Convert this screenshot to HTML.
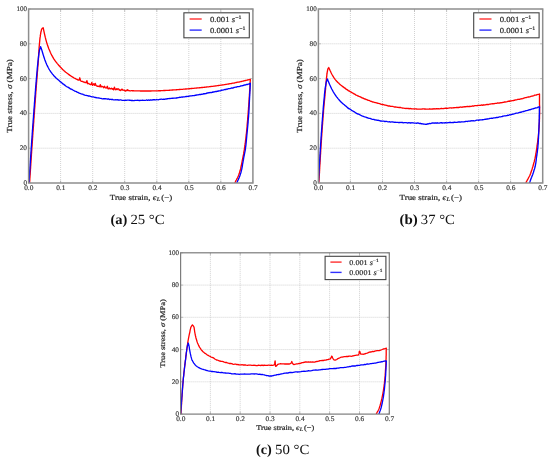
<!DOCTYPE html>
<html><head><meta charset="utf-8"><title>True stress-strain curves</title>
<style>html,body{margin:0;padding:0;background:#fff;}body{width:550px;height:459px;overflow:hidden;}svg{display:block;text-rendering:geometricPrecision;}</style>
</head><body>
<svg width="550" height="459" viewBox="0 0 550 459">
<rect width="550" height="459" fill="#fff"/>
<g font-family='"Liberation Serif", "DejaVu Serif", serif' fill="#2a2a2a" stroke-width="0.22"><clipPath id="clipa"><rect x="28.6" y="9.0" width="224.3" height="174.0"/></clipPath><path d="M60.6 9.0V183.0M92.7 9.0V183.0M124.7 9.0V183.0M156.8 9.0V183.0M188.8 9.0V183.0M220.8 9.0V183.0M28.6 148.2H252.9M28.6 113.4H252.9M28.6 78.6H252.9M28.6 43.8H252.9" stroke="#c6c6c6" stroke-width="0.8" stroke-dasharray="1 1" fill="none"/><path d="M28.6 183.0v-2.5M28.6 9.0v2.5M60.6 183.0v-2.5M60.6 9.0v2.5M92.7 183.0v-2.5M92.7 9.0v2.5M124.7 183.0v-2.5M124.7 9.0v2.5M156.8 183.0v-2.5M156.8 9.0v2.5M188.8 183.0v-2.5M188.8 9.0v2.5M220.8 183.0v-2.5M220.8 9.0v2.5M252.9 183.0v-2.5M252.9 9.0v2.5M28.6 183.0h2.5M252.9 183.0h-2.5M28.6 148.2h2.5M252.9 148.2h-2.5M28.6 113.4h2.5M252.9 113.4h-2.5M28.6 78.6h2.5M252.9 78.6h-2.5M28.6 43.8h2.5M252.9 43.8h-2.5M28.6 9.0h2.5M252.9 9.0h-2.5" stroke="#999" stroke-width="0.6" fill="none"/><g clip-path="url(#clipa)"><path d="M29.6 183.0L29.6 182.0L29.7 181.0L29.8 180.0L29.8 179.0L29.9 178.0L30.0 177.0L30.0 176.0L30.1 175.0L30.2 174.0L30.2 173.0L30.3 171.9L30.4 170.9L30.4 169.9L30.5 168.9L30.6 167.9L30.6 166.9L30.7 165.9L30.8 164.9L30.8 163.9L30.9 162.9L31.0 161.9L31.0 160.9L31.1 159.9L31.2 158.9L31.2 157.9L31.3 156.9L31.4 155.8L31.4 154.8L31.5 153.8L31.6 152.8L31.6 151.8L31.7 150.8L31.8 149.8L31.8 148.8L31.9 147.8L32.0 146.8L32.1 145.8L32.1 144.8L32.2 143.8L32.3 142.8L32.3 141.8L32.4 140.8L32.5 139.8L32.5 138.8L32.6 137.8L32.7 136.8L32.7 135.8L32.8 134.8L32.9 133.8L32.9 132.8L33.0 131.8L33.1 130.8L33.2 129.8L33.2 128.7L33.3 127.7L33.4 126.6L33.5 125.6L33.5 124.5L33.6 123.4L33.7 122.4L33.8 121.3L33.8 120.2L33.9 119.1L34.0 118.0L34.1 116.9L34.1 115.8L34.2 114.7L34.3 113.6L34.4 112.5L34.5 111.4L34.5 110.3L34.6 109.2L34.7 108.1L34.8 107.0L34.9 105.9L34.9 104.8L35.0 103.7L35.1 102.7L35.2 101.6L35.2 100.5L35.3 99.5L35.4 98.4L35.5 97.4L35.6 96.3L35.6 95.3L35.7 94.3L35.8 93.3L35.8 92.3L35.9 91.3L36.0 90.4L36.1 89.4L36.1 88.5L36.2 87.6L36.3 86.7L36.3 85.8L36.4 84.9L36.5 84.0L36.5 83.2L36.6 82.4L36.7 81.5L36.7 80.8L36.8 80.0L36.9 78.7L37.0 77.5L37.1 76.3L37.2 75.1L37.2 74.0L37.3 73.0L37.4 71.9L37.5 70.9L37.6 69.9L37.7 68.9L37.7 68.0L37.8 67.0L37.9 66.0L38.0 65.1L38.1 64.1L38.1 63.1L38.2 62.1L38.3 61.0L38.4 60.0L38.4 58.9L38.5 57.8L38.6 56.8L38.6 55.7L38.7 54.7L38.7 53.6L38.8 52.6L38.9 51.5L38.9 50.5L39.0 49.5L39.1 48.5L39.1 47.5L39.2 46.5L39.3 45.5L39.4 44.4L39.5 43.3L39.6 42.2L39.7 41.1L39.8 40.0L39.9 39.0L40.0 37.9L40.2 36.9L40.3 36.0L40.4 35.0L40.6 34.2L40.7 33.4L40.9 32.2L41.2 31.0L41.4 30.0L41.7 29.1L42.1 28.5L42.6 28.1L43.2 27.8L43.9 31.1L44.6 34.4L45.3 37.4L46.0 40.1L46.7 42.6L47.4 44.8L48.1 46.8L48.8 48.7L49.6 50.5L50.3 52.2L51.0 53.7L51.7 55.1L52.4 56.4L53.1 57.6L53.8 58.8L54.5 59.8L55.2 60.9L55.9 61.8L56.6 62.7L57.3 63.6L58.0 64.4L58.7 65.2L59.4 66.0L60.1 66.8L60.8 67.6L61.5 68.3L62.2 69.0L62.9 69.7L63.6 70.3L64.3 71.0L65.0 71.6L65.8 72.2L66.5 72.7L67.2 73.3L67.9 73.8L68.6 74.4L69.3 74.9L70.0 75.4L70.7 75.8L71.4 76.3L72.1 76.7L72.8 77.2L73.5 77.6L74.2 78.0L74.9 78.3L75.6 78.7L76.3 79.1L77.0 79.4L77.7 79.8L78.4 80.0L79.1 80.1L79.8 77.8L80.5 80.7L81.3 81.3L82.0 81.4L82.7 81.5L83.4 82.1L84.1 82.0L84.8 82.5L85.5 82.5L86.2 82.7L86.9 80.6L87.6 83.7L88.3 83.4L89.0 83.7L89.7 84.2L90.4 84.6L91.1 84.6L91.8 82.5L92.5 85.3L93.2 84.8L93.9 83.7L94.6 85.3L95.3 83.5L96.0 85.5L96.7 85.9L97.5 86.4L98.2 86.1L98.9 86.5L99.6 86.7L100.3 84.7L101.0 87.0L101.7 86.3L102.4 86.5L103.1 86.8L103.8 87.8L104.5 86.3L105.2 87.4L105.9 88.0L106.6 87.9L107.3 86.3L108.0 88.7L108.7 88.7L109.4 88.0L110.1 88.7L110.8 88.7L111.5 88.2L112.2 89.2L113.0 88.6L113.7 89.9L114.4 87.2L115.1 89.1L115.8 89.7L116.5 88.8L117.2 89.5L117.9 88.8L118.6 88.9L119.3 90.2L120.0 89.9L120.7 90.5L121.4 89.6L122.1 89.1L122.8 90.2L123.5 90.2L124.2 90.1L124.9 90.8L125.6 91.0L126.3 90.3L127.0 90.7L127.7 89.7L128.4 90.6L129.2 90.6L129.9 90.9L130.6 90.8L131.3 90.6L132.0 90.7L132.7 90.7L133.4 90.7L134.1 90.8L134.8 90.8L135.5 90.8L136.2 90.8L136.9 90.9L137.6 90.9L138.3 90.9L139.0 90.9L139.7 90.9L140.4 91.0L141.1 91.0L141.8 91.0L142.5 91.0L143.2 91.0L143.9 91.0L144.7 91.0L145.4 91.0L146.1 91.0L146.8 91.0L147.5 91.0L148.2 91.0L148.9 91.0L149.6 91.0L150.3 91.0L151.0 91.0L151.7 90.9L152.4 90.9L153.1 90.9L153.8 90.9L154.5 90.9L155.2 90.9L155.9 90.8L156.6 90.8L157.3 90.8L158.0 90.8L158.7 90.7L159.4 90.7L160.1 90.7L160.9 90.7L161.6 90.6L162.3 90.6L163.0 90.6L163.7 90.5L164.4 90.5L165.1 90.5L165.8 90.4L166.5 90.4L167.2 90.3L167.9 90.3L168.6 90.3L169.3 90.2L170.0 90.2L170.7 90.1L171.4 90.1L172.1 90.0L172.8 90.0L173.5 89.9L174.2 89.9L174.9 89.8L175.6 89.8L176.4 89.7L177.1 89.7L177.8 89.6L178.5 89.6L179.2 89.5L179.9 89.5L180.6 89.4L181.3 89.4L182.0 89.3L182.7 89.3L183.4 89.2L184.1 89.1L184.8 89.1L185.5 89.0L186.2 89.0L186.9 88.9L187.6 88.8L188.3 88.8L189.0 88.7L189.7 88.7L190.4 88.6L191.1 88.5L191.8 88.5L192.6 88.4L193.3 88.3L194.0 88.3L194.7 88.2L195.4 88.1L196.1 88.1L196.8 88.0L197.5 87.9L198.2 87.9L198.9 87.8L199.6 87.7L200.3 87.7L201.0 87.6L201.7 87.5L202.4 87.5L203.1 87.4L203.8 87.3L204.5 87.2L205.2 87.2L205.9 87.1L206.6 87.0L207.3 86.9L208.1 86.8L208.8 86.8L209.5 86.7L210.2 86.6L210.9 86.5L211.6 86.4L212.3 86.3L213.0 86.3L213.7 86.2L214.4 86.1L215.1 86.0L215.8 85.9L216.5 85.8L217.2 85.7L217.9 85.6L218.6 85.5L219.3 85.4L220.0 85.3L220.7 85.2L221.4 85.1L222.1 85.0L222.8 84.9L223.5 84.8L224.3 84.7L225.0 84.6L225.7 84.4L226.4 84.3L227.1 84.2L227.8 84.1L228.5 84.0L229.2 83.9L229.9 83.7L230.6 83.6L231.3 83.5L232.0 83.3L232.7 83.2L233.4 83.1L234.1 83.0L234.8 82.8L235.5 82.7L236.2 82.5L236.9 82.4L237.6 82.2L238.3 82.1L239.0 82.0L239.8 81.8L240.5 81.7L241.2 81.5L241.9 81.3L242.6 81.2L243.3 81.0L244.0 80.9L244.7 80.7L245.4 80.5L246.1 80.3L246.8 80.2L247.5 80.0L248.2 79.8L248.9 79.6L249.6 79.5L250.3 79.3L250.3 79.5L250.3 80.5L250.2 81.5L250.1 82.6L250.1 83.6L250.0 84.6L250.0 85.6L249.9 86.7L249.9 87.7L249.8 88.7L249.7 89.7L249.7 90.8L249.6 91.8L249.6 92.9L249.5 93.9L249.4 94.9L249.4 96.0L249.3 97.0L249.2 98.0L249.2 99.0L249.1 100.0L249.0 101.0L249.0 102.0L248.9 103.0L248.8 104.0L248.8 105.0L248.7 106.0L248.6 107.0L248.5 108.0L248.5 109.0L248.4 110.0L248.3 111.1L248.2 112.1L248.2 113.1L248.1 114.1L248.0 115.1L247.9 116.1L247.8 117.2L247.7 118.2L247.7 119.3L247.6 120.3L247.5 121.3L247.4 122.4L247.3 123.4L247.2 124.4L247.1 125.5L247.1 126.5L247.0 127.5L246.9 128.5L246.8 129.6L246.7 130.6L246.6 131.6L246.5 132.5L246.4 133.6L246.2 134.7L246.1 135.8L246.0 136.9L245.9 137.9L245.8 139.0L245.6 140.1L245.5 141.1L245.4 142.1L245.3 143.2L245.1 144.2L245.0 145.2L244.8 146.2L244.7 147.2L244.5 148.2L244.4 149.3L244.2 150.3L244.0 151.4L243.8 152.4L243.7 153.4L243.5 154.5L243.3 155.5L243.1 156.5L242.9 157.4L242.7 158.4L242.5 159.4L242.3 160.4L242.1 161.5L241.9 162.6L241.7 163.6L241.5 164.7L241.3 165.8L241.0 166.8L240.8 167.9L240.6 168.9L240.3 169.9L240.1 170.8L239.7 171.9L239.4 173.0L239.0 174.0L238.7 175.0L238.3 176.0L237.9 176.9L237.5 177.8L236.9 178.9L236.3 180.0L235.7 181.0L235.3 182.0L234.7 183.4L234.3 184.7" stroke="#ff0000" stroke-width="1.35" fill="none" stroke-linejoin="round"/><path d="M28.9 183.0L29.0 182.0L29.1 181.0L29.1 180.0L29.2 179.0L29.3 178.0L29.3 177.0L29.4 176.0L29.5 175.0L29.5 174.0L29.6 173.0L29.7 171.9L29.7 170.9L29.8 169.9L29.9 168.9L29.9 167.9L30.0 166.9L30.1 165.9L30.1 164.9L30.2 163.9L30.3 162.9L30.3 161.9L30.4 160.9L30.5 159.9L30.5 158.9L30.6 157.9L30.7 156.9L30.7 155.8L30.8 154.8L30.9 153.8L30.9 152.8L31.0 151.8L31.1 150.8L31.1 149.8L31.2 148.8L31.3 147.8L31.3 146.8L31.4 145.8L31.5 144.8L31.5 143.8L31.6 142.8L31.7 141.8L31.7 140.8L31.8 139.8L31.9 138.8L32.0 137.8L32.0 136.8L32.1 135.8L32.2 134.8L32.2 133.8L32.3 132.8L32.4 131.8L32.4 130.8L32.5 129.8L32.6 128.7L32.7 127.7L32.7 126.6L32.8 125.6L32.9 124.5L33.0 123.4L33.1 122.3L33.1 121.3L33.2 120.2L33.3 119.1L33.4 118.0L33.5 116.9L33.5 115.8L33.6 114.7L33.7 113.6L33.8 112.5L33.9 111.4L33.9 110.3L34.0 109.1L34.1 108.0L34.2 107.0L34.3 105.9L34.4 104.8L34.4 103.7L34.5 102.6L34.6 101.5L34.7 100.5L34.8 99.4L34.8 98.4L34.9 97.3L35.0 96.3L35.1 95.3L35.2 94.3L35.2 93.3L35.3 92.3L35.4 91.3L35.5 90.3L35.5 89.4L35.6 88.4L35.7 87.5L35.7 86.6L35.8 85.7L35.9 84.8L36.0 84.0L36.0 83.2L36.1 82.3L36.2 81.5L36.2 80.8L36.3 80.0L36.4 78.7L36.5 77.5L36.6 76.3L36.7 75.2L36.8 74.1L36.9 73.0L37.0 72.0L37.1 71.0L37.2 70.0L37.2 69.0L37.3 68.1L37.4 67.2L37.5 66.2L37.6 65.3L37.7 64.4L37.8 63.5L37.9 62.6L38.0 61.4L38.1 60.3L38.3 59.1L38.4 58.0L38.5 56.9L38.6 55.8L38.8 54.8L38.9 53.8L39.0 52.8L39.2 51.9L39.3 51.1L39.6 49.8L39.9 48.7L40.2 47.7L40.5 46.6L41.2 48.3L41.9 50.4L42.6 52.7L43.3 55.1L44.0 57.3L44.7 59.4L45.4 61.3L46.1 63.1L46.8 64.7L47.5 66.1L48.2 67.5L48.9 68.8L49.6 70.0L50.3 71.1L51.0 72.2L51.8 73.2L52.5 74.1L53.2 74.9L53.9 75.7L54.6 76.4L55.3 77.2L56.0 78.0L56.7 78.4L57.4 79.2L58.1 79.7L58.8 80.3L59.5 80.9L60.2 81.7L60.9 82.1L61.6 82.7L62.3 83.3L63.0 84.0L63.7 84.2L64.4 84.9L65.1 85.4L65.8 86.0L66.5 86.5L67.2 86.9L67.9 87.2L68.7 87.6L69.4 88.1L70.1 88.7L70.8 89.1L71.5 89.2L72.2 89.6L72.9 90.0L73.6 90.3L74.3 90.8L75.0 91.2L75.7 91.4L76.4 91.6L77.1 92.1L77.8 92.4L78.5 92.7L79.2 93.2L79.9 93.4L80.6 93.6L81.3 93.9L82.0 94.1L82.7 94.1L83.4 94.7L84.1 94.9L84.8 95.2L85.6 95.3L86.3 95.4L87.0 95.6L87.7 95.7L88.4 96.1L89.1 96.0L89.8 96.2L90.5 96.4L91.2 96.6L91.9 96.8L92.6 96.8L93.3 96.9L94.0 97.1L94.7 97.3L95.4 97.5L96.1 97.5L96.8 97.9L97.5 97.9L98.2 97.9L98.9 98.0L99.6 98.2L100.3 98.3L101.0 98.3L101.7 98.6L102.5 98.8L103.2 98.7L103.9 98.7L104.6 98.7L105.3 98.7L106.0 98.9L106.7 98.9L107.4 99.2L108.1 99.0L108.8 99.0L109.5 99.5L110.2 99.4L110.9 99.3L111.6 99.5L112.3 99.3L113.0 99.6L113.7 99.8L114.4 99.8L115.1 99.8L115.8 99.7L116.5 99.8L117.2 99.7L117.9 100.0L118.6 100.0L119.3 100.1L120.1 99.9L120.8 99.9L121.5 100.2L122.2 100.3L122.9 100.3L123.6 100.3L124.3 100.3L125.0 100.3L125.7 100.1L126.4 100.3L127.1 100.2L127.8 100.1L128.5 100.1L129.2 100.2L129.9 100.2L130.6 100.4L131.3 100.5L132.0 100.3L132.7 100.5L133.4 100.6L134.1 100.6L134.8 100.3L135.5 100.3L136.2 100.3L137.0 100.3L137.7 100.2L138.4 100.4L139.1 100.5L139.8 100.5L140.5 100.3L141.2 100.4L141.9 100.4L142.6 100.1L143.3 100.3L144.0 100.4L144.7 100.3L145.4 100.3L146.1 100.2L146.8 100.0L147.5 100.3L148.2 100.0L148.9 100.2L149.6 100.2L150.3 100.0L151.0 99.9L151.7 100.1L152.4 100.0L153.1 99.7L153.9 99.7L154.6 99.7L155.3 99.9L156.0 99.8L156.7 99.5L157.4 99.7L158.1 99.8L158.8 99.6L159.5 99.4L160.2 99.4L160.9 99.2L161.6 99.1L162.3 99.4L163.0 99.3L163.7 99.1L164.4 99.3L165.1 99.0L165.8 99.1L166.5 99.0L167.2 98.7L167.9 98.7L168.6 98.6L169.3 98.5L170.0 98.6L170.8 98.4L171.5 98.4L172.2 98.2L172.9 98.4L173.6 98.1L174.3 98.1L175.0 98.1L175.7 98.1L176.4 97.8L177.1 98.0L177.8 97.7L178.5 97.6L179.2 97.5L179.9 97.2L180.6 97.3L181.3 97.1L182.0 97.0L182.7 97.2L183.4 96.9L184.1 96.9L184.8 96.9L185.5 96.7L186.2 96.5L186.9 96.5L187.6 96.4L188.4 96.4L189.1 96.0L189.8 96.1L190.5 95.9L191.2 95.8L191.9 95.9L192.6 95.7L193.3 95.6L194.0 95.6L194.7 95.5L195.4 95.2L196.1 95.2L196.8 95.0L197.5 94.9L198.2 94.8L198.9 94.6L199.6 94.5L200.3 94.4L201.0 94.5L201.7 94.2L202.4 94.2L203.1 94.1L203.8 93.7L204.5 93.7L205.3 93.7L206.0 93.6L206.7 93.1L207.4 93.0L208.1 93.0L208.8 92.7L209.5 92.7L210.2 92.5L210.9 92.6L211.6 92.5L212.3 92.4L213.0 91.9L213.7 92.0L214.4 91.9L215.1 91.5L215.8 91.7L216.5 91.6L217.2 91.1L217.9 91.3L218.6 90.9L219.3 90.8L220.0 90.9L220.7 90.6L221.4 90.2L222.2 90.2L222.9 90.1L223.6 89.9L224.3 89.6L225.0 89.5L225.7 89.6L226.4 89.1L227.1 89.2L227.8 89.0L228.5 88.7L229.2 88.6L229.9 88.6L230.6 88.4L231.3 88.0L232.0 88.2L232.7 88.0L233.4 87.9L234.1 87.4L234.8 87.3L235.5 87.1L236.2 87.2L236.9 86.8L237.6 86.6L238.3 86.6L239.1 86.6L239.8 86.4L240.5 86.0L241.2 85.8L241.9 85.9L242.6 85.6L243.3 85.5L244.0 85.1L244.7 84.9L245.4 85.0L246.1 84.7L246.8 84.4L247.5 84.5L248.2 84.2L248.9 84.1L249.6 83.7L250.3 83.7L250.3 83.1L250.3 84.2L250.2 85.2L250.2 86.3L250.1 87.3L250.1 88.4L250.0 89.4L250.0 90.5L249.9 91.5L249.8 92.6L249.8 93.7L249.7 94.9L249.7 96.0L249.6 96.9L249.6 97.9L249.5 98.8L249.5 99.8L249.4 100.8L249.4 101.8L249.3 102.8L249.3 103.8L249.2 104.8L249.2 105.9L249.1 106.9L249.1 107.9L249.0 109.0L249.0 110.0L248.9 111.0L248.9 112.1L248.8 113.1L248.7 114.1L248.6 115.1L248.6 116.1L248.5 117.2L248.4 118.2L248.3 119.3L248.2 120.3L248.1 121.3L248.1 122.4L248.0 123.4L247.9 124.4L247.8 125.5L247.7 126.5L247.6 127.5L247.5 128.5L247.4 129.6L247.3 130.6L247.2 131.6L247.1 132.5L247.0 133.6L246.9 134.7L246.8 135.8L246.7 136.9L246.6 137.9L246.5 139.0L246.4 140.1L246.3 141.1L246.2 142.1L246.1 143.2L246.0 144.2L245.9 145.2L245.8 146.2L245.6 147.2L245.5 148.2L245.4 149.3L245.2 150.3L245.0 151.4L244.8 152.4L244.6 153.4L244.4 154.4L244.2 155.5L244.0 156.4L243.8 157.4L243.6 158.4L243.5 159.4L243.3 160.4L243.1 161.5L242.9 162.6L242.7 163.6L242.5 164.7L242.4 165.8L242.2 166.8L242.0 167.9L241.8 168.9L241.6 169.9L241.3 170.8L241.1 171.9L240.8 173.0L240.4 174.0L240.1 175.0L239.8 176.0L239.4 176.9L239.1 177.8L238.6 178.9L238.1 180.0L237.6 181.0L237.2 182.0L236.7 183.4L236.2 184.7" stroke="#0000ff" stroke-width="1.35" fill="none" stroke-linejoin="round"/></g><rect x="28.6" y="9.0" width="224.3" height="174.0" fill="none" stroke="#8e8e8e" stroke-width="1.5"/><g font-size="7.00" fill="#3a3a3a" stroke="#3a3a3a" stroke-width="0.18"><text x="28.8" y="190.1" text-anchor="middle" textLength="9.2" lengthAdjust="spacingAndGlyphs">0.0</text><text x="60.8" y="190.1" text-anchor="middle" textLength="9.2" lengthAdjust="spacingAndGlyphs">0.1</text><text x="92.9" y="190.1" text-anchor="middle" textLength="9.2" lengthAdjust="spacingAndGlyphs">0.2</text><text x="124.9" y="190.1" text-anchor="middle" textLength="9.2" lengthAdjust="spacingAndGlyphs">0.3</text><text x="157.0" y="190.1" text-anchor="middle" textLength="9.2" lengthAdjust="spacingAndGlyphs">0.4</text><text x="189.0" y="190.1" text-anchor="middle" textLength="9.2" lengthAdjust="spacingAndGlyphs">0.5</text><text x="221.0" y="190.1" text-anchor="middle" textLength="9.2" lengthAdjust="spacingAndGlyphs">0.6</text><text x="253.1" y="190.1" text-anchor="middle" textLength="9.2" lengthAdjust="spacingAndGlyphs">0.7</text><text x="27.0" y="185.0" text-anchor="end" textLength="3.6" lengthAdjust="spacingAndGlyphs">0</text><text x="27.0" y="150.2" text-anchor="end" textLength="7.3" lengthAdjust="spacingAndGlyphs">20</text><text x="27.0" y="115.4" text-anchor="end" textLength="7.3" lengthAdjust="spacingAndGlyphs">40</text><text x="27.0" y="80.6" text-anchor="end" textLength="7.3" lengthAdjust="spacingAndGlyphs">60</text><text x="27.0" y="45.8" text-anchor="end" textLength="7.3" lengthAdjust="spacingAndGlyphs">80</text><text x="27.0" y="11.0" text-anchor="end" textLength="10.6" lengthAdjust="spacingAndGlyphs">100</text></g><text stroke="#2a2a2a" x="141.0" y="199.7" font-size="7.70" text-anchor="middle" textLength="62.5" lengthAdjust="spacingAndGlyphs">True strain, <tspan font-style="italic">&#x3F5;</tspan><tspan font-style="italic" font-size="5.54" dx="0.4" dy="1.70">L</tspan><tspan dx="0.8" dy="-1.70">(&#x2212;)</tspan></text><text stroke="#2a2a2a" transform="translate(12.0 96.0) rotate(-90)" font-size="7.70" text-anchor="middle" textLength="73.5" lengthAdjust="spacingAndGlyphs">True stress, <tspan font-style="italic">&#x3C3;</tspan> (MPa)</text><rect x="183.9" y="12.8" width="65.4" height="25.0" fill="#fff" stroke="#444" stroke-width="1.1"/><path d="M189.6 19.0H201.7" stroke="#ff3030" stroke-width="1.4"/><path d="M189.6 30.1H201.7" stroke="#3030ff" stroke-width="1.4"/><text stroke="#2a2a2a" stroke-width="0.18" x="209.9" y="21.8" font-size="7.80" textLength="31.6" lengthAdjust="spacingAndGlyphs">0.001 <tspan font-style="italic">s</tspan><tspan font-size="5.30" dy="-3.00">&#x2212;1</tspan></text><text stroke="#2a2a2a" stroke-width="0.18" x="209.9" y="32.9" font-size="7.80" textLength="35.6" lengthAdjust="spacingAndGlyphs">0.0001 <tspan font-style="italic">s</tspan><tspan font-size="5.30" dy="-3.00">&#x2212;1</tspan></text></g><g font-family='"Liberation Serif", "DejaVu Serif", serif' fill="#2a2a2a" stroke-width="0.22"><clipPath id="clipb"><rect x="318.4" y="9.0" width="224.3" height="174.0"/></clipPath><path d="M350.4 9.0V183.0M382.5 9.0V183.0M414.5 9.0V183.0M446.6 9.0V183.0M478.6 9.0V183.0M510.6 9.0V183.0M318.4 148.2H542.7M318.4 113.4H542.7M318.4 78.6H542.7M318.4 43.8H542.7" stroke="#c6c6c6" stroke-width="0.8" stroke-dasharray="1 1" fill="none"/><path d="M318.4 183.0v-2.5M318.4 9.0v2.5M350.4 183.0v-2.5M350.4 9.0v2.5M382.5 183.0v-2.5M382.5 9.0v2.5M414.5 183.0v-2.5M414.5 9.0v2.5M446.6 183.0v-2.5M446.6 9.0v2.5M478.6 183.0v-2.5M478.6 9.0v2.5M510.6 183.0v-2.5M510.6 9.0v2.5M542.7 183.0v-2.5M542.7 9.0v2.5M318.4 183.0h2.5M542.7 183.0h-2.5M318.4 148.2h2.5M542.7 148.2h-2.5M318.4 113.4h2.5M542.7 113.4h-2.5M318.4 78.6h2.5M542.7 78.6h-2.5M318.4 43.8h2.5M542.7 43.8h-2.5M318.4 9.0h2.5M542.7 9.0h-2.5" stroke="#999" stroke-width="0.6" fill="none"/><g clip-path="url(#clipb)"><path d="M318.9 182.5L318.9 181.5L319.0 180.5L319.1 179.5L319.1 178.5L319.2 177.5L319.2 176.5L319.3 175.5L319.3 174.5L319.4 173.5L319.5 172.5L319.5 171.5L319.6 170.5L319.6 169.5L319.7 168.5L319.7 167.5L319.8 166.5L319.8 165.5L319.9 164.5L320.0 163.5L320.0 162.5L320.1 161.5L320.1 160.5L320.2 159.5L320.2 158.4L320.3 157.4L320.4 156.4L320.4 155.4L320.5 154.4L320.6 153.4L320.6 152.4L320.7 151.4L320.7 150.4L320.8 149.4L320.9 148.4L320.9 147.4L321.0 146.4L321.1 145.3L321.1 144.3L321.2 143.3L321.3 142.3L321.3 141.2L321.4 140.2L321.5 139.1L321.5 138.1L321.6 137.1L321.7 136.0L321.8 135.0L321.8 133.9L321.9 132.9L322.0 131.8L322.0 130.8L322.1 129.8L322.2 128.7L322.3 127.7L322.3 126.7L322.4 125.6L322.5 124.6L322.6 123.6L322.6 122.6L322.7 121.6L322.8 120.6L322.9 119.6L322.9 118.7L323.0 117.7L323.1 116.8L323.1 115.8L323.2 114.9L323.3 114.0L323.4 113.1L323.5 111.9L323.5 110.8L323.6 109.8L323.7 108.7L323.8 107.6L323.9 106.5L324.0 105.4L324.1 104.4L324.2 103.3L324.3 102.3L324.4 101.2L324.5 100.2L324.6 99.2L324.7 98.2L324.8 97.3L324.9 96.3L325.0 95.4L325.0 94.4L325.1 93.5L325.2 92.6L325.3 91.8L325.4 90.9L325.4 90.1L325.6 88.9L325.6 87.8L325.7 86.8L325.8 85.7L325.9 84.7L326.0 83.8L326.1 82.8L326.1 81.9L326.2 80.9L326.3 80.0L326.4 79.1L326.5 77.9L326.7 76.7L326.8 75.5L326.9 74.3L327.1 73.2L327.2 72.2L327.4 71.3L327.6 70.1L327.9 69.0L328.2 68.2L328.5 67.8L328.7 67.5L329.5 69.2L330.2 70.8L330.9 72.3L331.6 73.7L332.3 75.0L333.0 76.2L333.7 77.3L334.4 78.3L335.1 79.3L335.8 80.2L336.5 81.0L337.2 81.7L337.9 82.5L338.6 83.1L339.3 83.8L340.0 84.4L340.7 85.0L341.4 85.5L342.1 86.1L342.8 86.6L343.5 87.1L344.2 87.8L344.9 88.0L345.6 88.8L346.3 89.2L347.0 89.6L347.7 90.1L348.4 90.8L349.1 90.9L349.8 91.3L350.5 91.9L351.2 92.2L351.9 92.6L352.6 93.0L353.3 93.4L354.0 93.8L354.7 94.2L355.4 94.6L356.1 95.2L356.8 95.3L357.5 95.8L358.3 96.0L359.0 96.4L359.7 96.6L360.4 97.0L361.1 97.2L361.8 97.8L362.5 98.0L363.2 98.2L363.9 98.6L364.6 99.0L365.3 99.0L366.0 99.5L366.7 99.7L367.4 99.9L368.1 100.3L368.8 100.4L369.5 100.7L370.2 101.0L370.9 101.4L371.6 101.4L372.3 101.8L373.0 102.0L373.7 102.2L374.4 102.3L375.1 102.5L375.8 102.6L376.5 102.8L377.2 103.0L377.9 103.4L378.6 103.4L379.3 103.6L380.0 103.7L380.7 104.2L381.4 104.4L382.1 104.5L382.8 104.5L383.5 104.7L384.2 104.9L384.9 105.1L385.6 105.1L386.3 105.4L387.1 105.5L387.8 105.9L388.5 106.0L389.2 106.0L389.9 106.0L390.6 106.4L391.3 106.3L392.0 106.4L392.7 106.4L393.4 106.7L394.1 106.8L394.8 107.0L395.5 107.0L396.2 107.2L396.9 107.1L397.6 107.3L398.3 107.3L399.0 107.5L399.7 107.5L400.4 107.5L401.1 107.7L401.8 107.8L402.5 108.0L403.2 108.1L403.9 108.2L404.6 108.3L405.3 108.3L406.0 108.5L406.7 108.3L407.4 108.4L408.1 108.7L408.8 108.4L409.5 108.7L410.2 108.7L410.9 108.5L411.6 108.9L412.3 108.9L413.0 108.9L413.7 108.9L414.4 109.0L415.1 108.8L415.8 108.9L416.6 109.0L417.3 109.1L418.0 109.1L418.7 109.1L419.4 109.1L420.1 109.2L420.8 109.1L421.5 109.1L422.2 109.0L422.9 108.9L423.6 108.9L424.3 109.0L425.0 108.9L425.7 109.2L426.4 109.1L427.1 109.1L427.8 109.1L428.5 109.1L429.2 109.0L429.9 108.8L430.6 109.1L431.3 109.1L432.0 109.0L432.7 109.0L433.4 109.0L434.1 108.7L434.8 109.0L435.5 108.8L436.2 108.7L436.9 108.7L437.6 108.9L438.3 108.6L439.0 108.8L439.7 108.9L440.4 108.6L441.1 108.5L441.8 108.5L442.5 108.6L443.2 108.6L443.9 108.5L444.6 108.4L445.4 108.2L446.1 108.2L446.8 108.2L447.5 108.3L448.2 108.1L448.9 108.1L449.6 107.9L450.3 107.8L451.0 107.9L451.7 108.0L452.4 107.9L453.1 107.9L453.8 107.7L454.5 107.7L455.2 107.6L455.9 107.6L456.6 107.4L457.3 107.6L458.0 107.3L458.7 107.5L459.4 107.4L460.1 107.0L460.8 107.1L461.5 107.2L462.2 107.2L462.9 107.0L463.6 106.8L464.3 106.7L465.0 107.0L465.7 106.6L466.4 106.7L467.1 106.5L467.8 106.5L468.5 106.6L469.2 106.3L469.9 106.5L470.6 106.3L471.3 106.4L472.0 106.2L472.7 106.0L473.4 106.2L474.2 105.9L474.9 105.7L475.6 105.6L476.3 105.7L477.0 105.6L477.7 105.5L478.4 105.4L479.1 105.4L479.8 105.3L480.5 105.4L481.2 105.0L481.9 105.2L482.6 105.2L483.3 104.8L484.0 105.1L484.7 104.9L485.4 104.9L486.1 104.6L486.8 104.5L487.5 104.4L488.2 104.6L488.9 104.3L489.6 104.2L490.3 104.1L491.0 103.9L491.7 103.8L492.4 103.7L493.1 103.9L493.8 103.6L494.5 103.7L495.2 103.4L495.9 103.3L496.6 103.3L497.3 103.0L498.0 103.0L498.7 103.1L499.4 103.0L500.1 102.9L500.8 102.7L501.5 102.7L502.2 102.6L502.9 102.3L503.7 102.3L504.4 101.9L505.1 102.1L505.8 101.8L506.5 101.8L507.2 101.7L507.9 101.4L508.6 101.2L509.3 101.4L510.0 100.9L510.7 101.0L511.4 100.8L512.1 100.6L512.8 100.7L513.5 100.6L514.2 100.2L514.9 100.2L515.6 99.9L516.3 99.9L517.0 99.7L517.7 99.4L518.4 99.3L519.1 99.2L519.8 99.3L520.5 99.0L521.2 98.7L521.9 98.8L522.6 98.7L523.3 98.3L524.0 98.0L524.7 97.9L525.4 97.7L526.1 97.6L526.8 97.3L527.5 97.2L528.2 97.0L528.9 97.0L529.6 96.9L530.3 96.7L531.0 96.4L531.7 96.2L532.5 96.0L533.2 95.8L533.9 95.6L534.6 95.2L535.3 95.1L536.0 95.2L536.7 94.7L537.4 94.6L538.1 94.4L538.8 94.3L539.5 94.0L539.5 93.9L539.5 94.9L539.5 96.0L539.5 97.0L539.5 98.1L539.5 99.2L539.5 100.2L539.5 101.3L539.5 102.4L539.5 103.4L539.5 104.5L539.6 105.6L539.6 106.6L539.6 107.7L539.6 108.7L539.6 109.8L539.6 110.8L539.6 111.8L539.6 112.8L539.6 113.8L539.6 114.8L539.5 115.8L539.5 116.8L539.5 117.7L539.5 118.6L539.4 119.8L539.4 120.9L539.4 122.0L539.3 123.1L539.3 124.2L539.2 125.2L539.1 126.3L539.1 127.3L539.0 128.3L538.9 129.3L538.9 130.3L538.8 131.3L538.7 132.3L538.6 133.3L538.5 134.3L538.4 135.4L538.3 136.5L538.2 137.6L538.0 138.7L537.9 139.8L537.8 140.8L537.6 141.9L537.5 142.9L537.3 144.0L537.2 145.0L537.1 146.0L536.9 147.0L536.8 148.0L536.6 149.1L536.5 150.1L536.3 151.1L536.2 152.1L536.0 153.0L535.9 154.0L535.7 155.0L535.5 155.9L535.3 156.9L535.1 157.9L534.9 158.9L534.6 159.9L534.4 160.9L534.2 161.9L533.9 162.8L533.6 163.8L533.4 164.8L533.1 165.8L532.8 166.8L532.4 167.9L532.1 169.0L531.8 170.0L531.4 171.1L531.0 172.2L530.7 173.2L530.3 174.2L529.9 175.2L529.4 176.2L528.8 177.3L528.3 178.3L527.7 179.3L527.2 180.3L526.7 181.1L526.3 182.0L525.8 183.4L525.4 184.7" stroke="#ff0000" stroke-width="1.35" fill="none" stroke-linejoin="round"/><path d="M318.4 182.5L318.5 181.5L318.5 180.5L318.6 179.5L318.6 178.5L318.7 177.5L318.7 176.5L318.8 175.5L318.9 174.5L318.9 173.5L319.0 172.5L319.0 171.5L319.1 170.5L319.1 169.5L319.2 168.5L319.3 167.5L319.3 166.5L319.4 165.5L319.4 164.5L319.5 163.5L319.5 162.5L319.6 161.5L319.7 160.5L319.7 159.5L319.8 158.4L319.8 157.4L319.9 156.4L319.9 155.4L320.0 154.4L320.1 153.4L320.1 152.4L320.2 151.4L320.3 150.4L320.3 149.4L320.4 148.4L320.5 147.4L320.5 146.4L320.6 145.3L320.6 144.3L320.7 143.3L320.8 142.3L320.9 141.2L320.9 140.2L321.0 139.1L321.1 138.1L321.1 137.1L321.2 136.0L321.3 135.0L321.3 133.9L321.4 132.9L321.5 131.8L321.6 130.8L321.6 129.8L321.7 128.7L321.8 127.7L321.9 126.7L321.9 125.6L322.0 124.6L322.1 123.6L322.1 122.6L322.2 121.6L322.3 120.6L322.4 119.6L322.4 118.7L322.5 117.7L322.6 116.8L322.7 115.8L322.7 114.9L322.8 114.0L322.9 113.1L323.0 111.9L323.1 110.8L323.2 109.7L323.2 108.6L323.3 107.5L323.4 106.4L323.5 105.3L323.6 104.2L323.7 103.1L323.8 102.1L323.9 101.0L324.0 100.0L324.1 98.9L324.2 97.9L324.3 97.0L324.4 96.0L324.4 95.1L324.5 94.2L324.6 93.3L324.7 92.4L324.8 91.6L324.9 90.8L325.0 90.1L325.2 88.7L325.3 87.5L325.5 86.4L325.7 85.3L325.9 84.3L326.0 83.3L326.2 82.4L326.6 81.2L327.0 80.1L327.4 78.9L328.1 80.8L328.8 82.5L329.5 84.2L330.2 85.7L330.9 87.2L331.6 88.7L332.3 90.0L333.0 91.3L333.7 92.5L334.4 93.7L335.2 94.8L335.9 95.8L336.6 96.8L337.3 97.7L338.0 98.6L338.7 99.4L339.4 100.2L340.1 101.0L340.8 101.7L341.5 102.4L342.2 103.1L342.9 103.7L343.6 104.3L344.3 104.8L345.0 105.4L345.7 106.0L346.4 106.6L347.1 107.2L347.8 107.9L348.5 108.4L349.2 108.9L349.9 109.0L350.7 109.5L351.4 110.2L352.1 110.7L352.8 111.0L353.5 111.5L354.2 111.7L354.9 112.2L355.6 112.8L356.3 113.2L357.0 113.6L357.7 114.0L358.4 114.0L359.1 114.3L359.8 114.7L360.5 115.2L361.2 115.5L361.9 115.9L362.6 116.1L363.3 116.4L364.0 116.7L364.7 116.9L365.4 117.1L366.2 117.2L366.9 117.7L367.6 117.7L368.3 118.2L369.0 118.3L369.7 118.4L370.4 118.5L371.1 118.8L371.8 119.1L372.5 119.3L373.2 119.3L373.9 119.4L374.6 119.8L375.3 119.9L376.0 120.0L376.7 120.1L377.4 120.4L378.1 120.2L378.8 120.5L379.5 120.7L380.2 121.0L380.9 121.0L381.7 121.2L382.4 121.1L383.1 121.1L383.8 121.2L384.5 121.5L385.2 121.5L385.9 121.4L386.6 121.4L387.3 121.7L388.0 121.8L388.7 121.8L389.4 121.7L390.1 122.0L390.8 122.1L391.5 121.9L392.2 121.9L392.9 122.0L393.6 122.1L394.3 122.3L395.0 122.1L395.7 122.4L396.5 122.4L397.2 122.3L397.9 122.3L398.6 122.6L399.3 122.4L400.0 122.6L400.7 122.4L401.4 122.4L402.1 122.7L402.8 122.5L403.5 122.8L404.2 122.7L404.9 122.6L405.6 122.6L406.3 122.7L407.0 122.8L407.7 123.0L408.4 122.7L409.1 122.8L409.8 122.7L410.5 123.1L411.2 122.8L412.0 122.7L412.7 122.8L413.4 122.9L414.1 123.1L414.8 123.1L415.5 123.1L416.2 123.2L416.9 123.2L417.6 123.0L418.3 123.0L419.0 123.4L419.7 123.5L420.4 123.3L421.1 123.7L421.8 123.7L422.5 123.9L423.2 124.0L423.9 124.1L424.6 124.1L425.3 124.3L426.0 124.2L426.7 124.3L427.5 123.8L428.2 124.0L428.9 123.6L429.6 123.5L430.3 123.6L431.0 123.5L431.7 123.2L432.4 122.9L433.1 123.1L433.8 123.0L434.5 123.2L435.2 122.9L435.9 123.0L436.6 123.2L437.3 122.8L438.0 123.0L438.7 123.1L439.4 123.1L440.1 122.8L440.8 122.7L441.5 122.7L442.2 123.1L443.0 122.8L443.7 122.9L444.4 123.0L445.1 122.7L445.8 122.7L446.5 122.9L447.2 122.8L447.9 122.6L448.6 122.7L449.3 122.5L450.0 122.5L450.7 122.3L451.4 122.6L452.1 122.6L452.8 122.5L453.5 122.6L454.2 122.2L454.9 122.2L455.6 122.3L456.3 122.4L457.0 122.4L457.7 122.1L458.5 122.0L459.2 122.0L459.9 122.0L460.6 122.1L461.3 121.8L462.0 121.9L462.7 121.9L463.4 121.8L464.1 121.8L464.8 121.6L465.5 121.5L466.2 121.4L466.9 121.4L467.6 121.5L468.3 121.1L469.0 121.1L469.7 121.2L470.4 121.0L471.1 120.8L471.8 120.7L472.5 120.9L473.2 120.7L474.0 120.9L474.7 120.8L475.4 120.7L476.1 120.4L476.8 120.2L477.5 120.1L478.2 120.2L478.9 120.2L479.6 120.0L480.3 119.8L481.0 119.8L481.7 119.8L482.4 119.7L483.1 119.7L483.8 119.6L484.5 119.4L485.2 119.1L485.9 119.3L486.6 119.0L487.3 119.0L488.0 118.8L488.7 118.9L489.5 118.5L490.2 118.4L490.9 118.3L491.6 118.2L492.3 118.4L493.0 118.1L493.7 117.9L494.4 117.8L495.1 117.9L495.8 117.6L496.5 117.4L497.2 117.5L497.9 117.3L498.6 117.3L499.3 116.8L500.0 116.8L500.7 116.8L501.4 116.7L502.1 116.6L502.8 116.1L503.5 116.1L504.2 115.9L505.0 115.8L505.7 115.9L506.4 115.6L507.1 115.6L507.8 115.2L508.5 115.3L509.2 115.0L509.9 114.7L510.6 114.8L511.3 114.7L512.0 114.2L512.7 114.2L513.4 114.1L514.1 113.8L514.8 113.7L515.5 113.4L516.2 113.2L516.9 113.1L517.6 113.1L518.3 112.9L519.0 112.6L519.7 112.3L520.5 112.2L521.2 112.2L521.9 111.8L522.6 111.7L523.3 111.5L524.0 111.5L524.7 111.2L525.4 110.8L526.1 110.6L526.8 110.6L527.5 110.4L528.2 110.3L528.9 109.8L529.6 109.7L530.3 109.7L531.0 109.4L531.7 109.1L532.4 108.9L533.1 108.9L533.8 108.5L534.5 108.4L535.2 108.0L536.0 107.9L536.7 107.8L537.4 107.6L538.1 107.2L538.8 106.9L539.5 106.8L539.5 106.8L539.5 107.8L539.4 108.8L539.4 109.8L539.4 110.8L539.4 111.8L539.4 112.7L539.4 113.7L539.3 114.7L539.3 115.7L539.3 116.7L539.3 117.8L539.3 118.8L539.2 119.9L539.2 121.0L539.2 122.1L539.1 123.0L539.1 124.0L539.0 125.0L539.0 126.0L539.0 127.1L538.9 128.2L538.9 129.3L538.8 130.4L538.8 131.5L538.7 132.6L538.7 133.7L538.6 134.9L538.6 136.0L538.5 137.1L538.5 138.2L538.4 139.3L538.3 140.4L538.3 141.4L538.2 142.4L538.2 143.4L538.1 144.4L538.0 145.3L537.9 146.2L537.9 147.0L537.8 148.2L537.6 149.3L537.5 150.3L537.4 151.3L537.3 152.3L537.1 153.2L537.0 154.1L536.9 155.0L536.7 156.0L536.6 156.9L536.4 158.0L536.3 159.2L536.2 160.3L536.0 161.4L535.9 162.5L535.7 163.6L535.5 164.7L535.3 165.8L535.1 166.8L534.8 167.9L534.5 169.0L534.1 170.0L533.8 171.1L533.5 172.2L533.1 173.2L532.8 174.2L532.4 175.2L532.0 176.2L531.6 177.3L531.2 178.3L530.8 179.3L530.5 180.3L530.1 181.1L529.9 182.0L529.5 183.4L529.2 184.7" stroke="#0000ff" stroke-width="1.35" fill="none" stroke-linejoin="round"/></g><rect x="318.4" y="9.0" width="224.3" height="174.0" fill="none" stroke="#8e8e8e" stroke-width="1.5"/><g font-size="7.00" fill="#3a3a3a" stroke="#3a3a3a" stroke-width="0.18"><text x="318.6" y="190.1" text-anchor="middle" textLength="9.2" lengthAdjust="spacingAndGlyphs">0.0</text><text x="350.6" y="190.1" text-anchor="middle" textLength="9.2" lengthAdjust="spacingAndGlyphs">0.1</text><text x="382.7" y="190.1" text-anchor="middle" textLength="9.2" lengthAdjust="spacingAndGlyphs">0.2</text><text x="414.7" y="190.1" text-anchor="middle" textLength="9.2" lengthAdjust="spacingAndGlyphs">0.3</text><text x="446.8" y="190.1" text-anchor="middle" textLength="9.2" lengthAdjust="spacingAndGlyphs">0.4</text><text x="478.8" y="190.1" text-anchor="middle" textLength="9.2" lengthAdjust="spacingAndGlyphs">0.5</text><text x="510.8" y="190.1" text-anchor="middle" textLength="9.2" lengthAdjust="spacingAndGlyphs">0.6</text><text x="542.9" y="190.1" text-anchor="middle" textLength="9.2" lengthAdjust="spacingAndGlyphs">0.7</text><text x="316.8" y="185.0" text-anchor="end" textLength="3.6" lengthAdjust="spacingAndGlyphs">0</text><text x="316.8" y="150.2" text-anchor="end" textLength="7.3" lengthAdjust="spacingAndGlyphs">20</text><text x="316.8" y="115.4" text-anchor="end" textLength="7.3" lengthAdjust="spacingAndGlyphs">40</text><text x="316.8" y="80.6" text-anchor="end" textLength="7.3" lengthAdjust="spacingAndGlyphs">60</text><text x="316.8" y="45.8" text-anchor="end" textLength="7.3" lengthAdjust="spacingAndGlyphs">80</text><text x="316.8" y="11.0" text-anchor="end" textLength="10.6" lengthAdjust="spacingAndGlyphs">100</text></g><text stroke="#2a2a2a" x="430.8" y="199.7" font-size="7.70" text-anchor="middle" textLength="62.5" lengthAdjust="spacingAndGlyphs">True strain, <tspan font-style="italic">&#x3F5;</tspan><tspan font-style="italic" font-size="5.54" dx="0.4" dy="1.70">L</tspan><tspan dx="0.8" dy="-1.70">(&#x2212;)</tspan></text><text stroke="#2a2a2a" transform="translate(301.8 96.0) rotate(-90)" font-size="7.70" text-anchor="middle" textLength="73.5" lengthAdjust="spacingAndGlyphs">True stress, <tspan font-style="italic">&#x3C3;</tspan> (MPa)</text><rect x="473.7" y="12.8" width="65.4" height="25.0" fill="#fff" stroke="#444" stroke-width="1.1"/><path d="M479.4 19.0H491.5" stroke="#ff3030" stroke-width="1.4"/><path d="M479.4 30.1H491.5" stroke="#3030ff" stroke-width="1.4"/><text stroke="#2a2a2a" stroke-width="0.18" x="499.7" y="21.8" font-size="7.80" textLength="31.6" lengthAdjust="spacingAndGlyphs">0.001 <tspan font-style="italic">s</tspan><tspan font-size="5.30" dy="-3.00">&#x2212;1</tspan></text><text stroke="#2a2a2a" stroke-width="0.18" x="499.7" y="32.9" font-size="7.80" textLength="35.6" lengthAdjust="spacingAndGlyphs">0.0001 <tspan font-style="italic">s</tspan><tspan font-size="5.30" dy="-3.00">&#x2212;1</tspan></text></g><g font-family='"Liberation Serif", "DejaVu Serif", serif' fill="#2a2a2a" stroke-width="0.22"><clipPath id="clipc"><rect x="180.6" y="252.8" width="208.7" height="161.3"/></clipPath><path d="M210.4 252.8V414.1M240.2 252.8V414.1M270.0 252.8V414.1M299.8 252.8V414.1M329.6 252.8V414.1M359.5 252.8V414.1M180.6 381.8H389.3M180.6 349.6H389.3M180.6 317.3H389.3M180.6 285.1H389.3" stroke="#c6c6c6" stroke-width="0.8" stroke-dasharray="1 1" fill="none"/><path d="M180.6 414.1v-2.5M180.6 252.8v2.5M210.4 414.1v-2.5M210.4 252.8v2.5M240.2 414.1v-2.5M240.2 252.8v2.5M270.0 414.1v-2.5M270.0 252.8v2.5M299.8 414.1v-2.5M299.8 252.8v2.5M329.6 414.1v-2.5M329.6 252.8v2.5M359.5 414.1v-2.5M359.5 252.8v2.5M389.3 414.1v-2.5M389.3 252.8v2.5M180.6 414.1h2.5M389.3 414.1h-2.5M180.6 381.8h2.5M389.3 381.8h-2.5M180.6 349.6h2.5M389.3 349.6h-2.5M180.6 317.3h2.5M389.3 317.3h-2.5M180.6 285.1h2.5M389.3 285.1h-2.5M180.6 252.8h2.5M389.3 252.8h-2.5" stroke="#999" stroke-width="0.6" fill="none"/><g clip-path="url(#clipc)"><path d="M180.9 414.1L181.0 413.1L181.0 412.1L181.1 411.1L181.2 410.1L181.2 409.0L181.3 408.0L181.4 407.0L181.4 405.9L181.5 404.9L181.6 403.9L181.6 402.8L181.7 401.8L181.7 400.8L181.8 399.7L181.9 398.7L181.9 397.7L182.0 396.6L182.1 395.6L182.1 394.6L182.2 393.6L182.3 392.6L182.3 391.6L182.4 390.6L182.5 389.6L182.5 388.6L182.6 387.6L182.7 386.6L182.8 385.7L182.8 384.7L182.9 383.7L183.0 382.8L183.1 381.9L183.1 381.0L183.2 380.1L183.3 378.9L183.4 377.8L183.5 376.7L183.7 375.6L183.8 374.5L183.9 373.5L184.0 372.4L184.1 371.3L184.2 370.3L184.3 369.3L184.5 368.2L184.6 367.2L184.7 366.2L184.8 365.2L185.0 364.2L185.1 363.2L185.2 362.2L185.3 361.3L185.4 360.3L185.6 359.4L185.7 358.4L185.8 357.5L185.9 356.3L186.1 355.2L186.2 354.1L186.3 353.0L186.5 351.9L186.6 350.8L186.8 349.7L186.9 348.6L187.0 347.6L187.2 346.6L187.3 345.6L187.5 344.6L187.6 343.7L187.8 342.7L187.9 341.8L188.1 340.7L188.3 339.5L188.5 338.4L188.7 337.4L188.9 336.4L189.1 335.4L189.3 334.4L189.5 333.5L189.8 332.3L190.0 331.1L190.2 329.9L190.5 328.8L190.7 327.8L191.0 327.0L191.7 325.9L192.4 324.9L193.1 325.6L193.7 326.5L194.0 327.2L194.2 328.1L194.3 329.1L194.5 330.2L194.6 331.3L194.8 332.4L195.0 333.5L195.2 334.5L195.4 335.5L195.7 336.6L195.9 337.7L196.2 338.7L196.5 339.8L196.8 340.8L197.1 341.8L197.5 342.9L198.0 344.0L198.5 345.1L199.0 346.1L199.5 347.1L200.1 348.0L200.7 348.9L201.3 349.8L201.9 350.5L202.6 351.3L203.3 352.0L204.1 352.6L204.9 353.4L205.7 353.7L206.5 354.2L207.4 355.1L208.3 355.4L209.2 356.0L210.1 356.4L211.0 357.0L211.9 357.3L212.9 357.7L213.9 358.2L214.8 359.0L215.8 359.5L216.8 360.1L217.9 360.2L218.9 360.8L219.9 361.0L221.0 361.3L222.1 361.4L223.2 361.7L224.2 362.1L225.3 362.5L226.4 362.4L227.4 362.8L228.5 363.2L229.6 363.5L230.6 363.4L231.7 363.6L232.8 364.1L233.8 364.3L234.8 364.2L235.8 364.2L236.8 364.6L237.9 364.5L239.0 364.8L240.2 364.8L241.1 364.9L242.1 364.7L243.1 365.0L244.1 364.9L245.2 365.0L246.2 365.2L247.4 365.3L248.5 365.1L249.6 365.1L250.7 365.2L251.8 365.3L253.0 365.3L254.0 365.2L255.1 365.3L256.2 365.5L257.3 365.6L258.5 365.2L259.7 365.4L260.8 365.5L262.0 365.2L263.2 365.5L264.3 365.2L265.4 365.4L266.4 365.4L267.4 365.4L268.4 365.2L269.2 365.2L270.0 365.3L271.3 365.2L272.5 365.4L273.5 365.2L274.2 364.9L274.7 363.4L274.9 361.9L275.1 361.0L275.2 361.5L275.3 363.0L275.4 364.6L275.6 365.9L275.8 366.4L276.6 365.8L277.5 364.6L278.4 364.1L279.6 363.9L280.5 363.7L281.5 363.8L282.6 363.9L283.8 363.8L284.9 364.0L286.2 363.8L287.6 364.0L288.9 364.0L290.1 363.8L290.9 363.3L291.5 362.3L291.8 361.5L292.3 362.8L293.0 364.0L293.4 364.4L293.9 364.5L294.6 364.3L295.5 364.2L296.6 363.8L297.7 363.9L298.8 363.5L299.8 363.5L301.0 363.2L302.0 362.6L303.1 362.5L304.3 362.3L305.2 361.9L306.2 362.0L307.2 362.1L308.3 361.9L309.5 362.2L310.6 362.0L311.7 362.2L312.8 362.0L313.8 362.1L314.7 362.2L315.9 361.7L316.9 361.5L317.9 361.4L319.0 361.0L320.1 360.7L321.1 360.6L322.2 360.4L323.4 360.5L324.7 360.2L325.9 360.1L327.1 359.6L328.1 359.6L329.0 359.2L329.6 359.1L330.4 358.8L330.8 358.2L331.3 357.1L331.7 356.1L332.2 356.7L332.7 358.0L333.2 358.8L334.0 359.9L335.0 360.1L335.9 359.8L336.8 359.5L337.9 358.6L339.1 358.2L340.4 357.5L341.2 357.2L342.2 357.2L343.2 356.9L344.4 356.6L345.5 356.7L346.7 356.3L347.9 356.5L349.1 356.2L350.2 356.2L351.3 356.3L352.3 356.0L353.3 355.9L354.1 355.6L355.5 355.3L356.7 355.2L357.8 355.1L358.6 354.8L359.1 353.4L359.2 351.8L359.5 351.2L359.8 351.5L360.1 352.8L360.7 354.0L361.4 354.1L362.4 354.2L363.2 354.3L364.0 354.0L365.0 353.8L366.1 353.3L367.2 353.1L368.3 352.7L369.4 352.2L370.5 352.0L371.5 351.8L372.6 351.4L373.7 351.6L374.8 351.1L375.9 350.9L377.0 350.7L378.0 350.7L379.1 350.6L380.0 350.3L381.2 349.9L382.2 349.5L383.2 349.0L384.3 348.9L385.3 348.5L386.3 348.1L386.3 348.1L386.3 349.2L386.2 350.2L386.2 351.2L386.2 352.3L386.2 353.3L386.2 354.3L386.2 355.3L386.1 356.4L386.1 357.5L386.1 358.6L386.0 359.7L386.0 360.9L385.9 361.8L385.9 362.7L385.9 363.7L385.8 364.7L385.8 365.7L385.7 366.7L385.6 367.8L385.6 368.8L385.5 369.9L385.4 371.0L385.4 372.0L385.3 373.1L385.2 374.2L385.2 375.3L385.1 376.3L385.0 377.4L384.9 378.4L384.8 379.4L384.7 380.4L384.6 381.4L384.5 382.3L384.4 383.4L384.2 384.5L384.1 385.5L384.0 386.6L383.8 387.6L383.7 388.6L383.5 389.6L383.4 390.6L383.2 391.6L383.0 392.6L382.9 393.6L382.7 394.5L382.5 395.5L382.3 396.4L382.1 397.3L381.9 398.4L381.6 399.5L381.4 400.6L381.1 401.7L380.9 402.8L380.6 403.8L380.3 404.8L380.0 405.8L379.7 406.7L379.4 407.6L379.1 408.5L378.6 409.7L378.0 410.8L377.4 411.8L376.9 412.8L376.5 413.6L376.1 414.7L375.9 415.7" stroke="#ff0000" stroke-width="1.30" fill="none" stroke-linejoin="round"/><path d="M180.6 414.1L180.7 413.1L180.8 412.1L180.8 411.1L180.9 410.1L181.0 409.0L181.1 408.0L181.1 407.0L181.2 405.9L181.3 404.9L181.4 403.9L181.4 402.8L181.5 401.8L181.6 400.8L181.7 399.7L181.7 398.7L181.8 397.7L181.9 396.6L182.0 395.6L182.0 394.6L182.1 393.6L182.2 392.6L182.3 391.6L182.3 390.6L182.4 389.6L182.5 388.6L182.6 387.6L182.6 386.6L182.7 385.7L182.8 384.7L182.9 383.7L183.0 382.8L183.1 381.9L183.1 381.0L183.2 380.1L183.3 378.9L183.4 377.8L183.6 376.7L183.7 375.6L183.8 374.4L183.9 373.3L184.0 372.2L184.2 371.1L184.3 370.1L184.4 369.0L184.5 367.9L184.6 366.9L184.8 365.9L184.9 364.9L185.0 363.9L185.1 362.9L185.2 361.9L185.4 361.0L185.5 360.1L185.6 359.2L185.7 358.3L185.8 357.5L185.9 356.3L186.1 355.1L186.2 353.9L186.3 352.8L186.5 351.8L186.6 350.8L186.7 349.8L186.9 348.9L187.0 348.0L187.2 347.2L187.4 346.0L187.7 344.9L187.9 344.0L188.2 343.0L188.6 344.2L188.9 345.5L189.1 346.4L189.3 347.4L189.4 348.5L189.6 349.6L189.8 350.7L190.0 351.8L190.2 352.9L190.4 353.9L190.7 355.1L190.9 356.2L191.2 357.3L191.5 358.4L191.8 359.4L192.2 360.4L192.7 361.3L193.2 362.2L193.8 363.1L194.4 363.9L195.0 364.7L195.7 365.4L196.4 366.0L197.3 366.7L198.3 367.3L199.3 367.8L200.3 368.3L201.5 368.8L202.3 369.1L203.2 369.4L204.1 369.7L205.1 369.9L206.1 370.3L207.1 370.5L208.2 370.9L209.3 371.1L210.4 371.1L211.3 371.5L212.2 371.3L213.1 371.7L214.1 371.7L215.1 371.8L216.1 371.9L217.1 372.3L218.1 372.1L219.2 372.4L220.2 372.6L221.2 372.4L222.3 372.5L223.3 372.8L224.3 372.9L225.3 373.0L226.4 373.2L227.4 373.1L228.5 373.2L229.6 373.3L230.6 373.4L231.7 373.8L232.8 373.9L233.8 373.9L234.9 373.7L236.0 374.2L237.0 374.2L238.1 374.1L239.2 374.3L240.2 374.2L241.3 374.2L242.4 374.1L243.5 374.2L244.6 374.0L245.7 374.1L246.8 374.2L247.9 374.2L249.0 374.2L250.1 374.1L251.1 373.9L252.2 373.9L253.2 373.9L254.2 374.0L255.1 373.9L256.4 373.9L257.6 374.1L258.7 374.4L259.9 374.2L261.0 374.6L262.0 374.4L263.1 374.7L264.1 374.8L265.1 375.2L266.1 375.5L267.1 375.7L268.1 375.7L269.1 376.1L270.0 376.0L271.0 375.9L272.0 376.0L272.9 375.7L273.9 375.5L274.9 375.2L276.0 375.1L276.9 374.7L277.8 374.7L278.8 374.5L279.7 374.3L280.7 374.0L281.7 373.9L282.8 373.7L283.8 373.4L284.9 373.2L285.9 373.2L286.9 372.9L287.9 373.1L288.9 372.6L290.0 372.5L291.1 372.4L292.1 372.6L293.2 372.3L294.4 372.1L295.5 371.9L296.6 371.8L297.7 372.0L298.8 371.8L299.8 371.8L300.9 371.7L302.0 371.3L303.0 371.4L304.1 371.2L305.2 371.3L306.2 371.2L307.3 371.1L308.4 370.7L309.4 370.9L310.5 370.8L311.6 370.7L312.6 370.3L313.7 370.2L314.7 370.1L315.8 369.9L316.9 370.2L317.9 370.1L319.0 369.9L320.1 369.9L321.1 369.7L322.2 369.5L323.3 369.3L324.3 369.3L325.4 369.4L326.5 369.1L327.5 369.1L328.6 369.0L329.6 368.7L330.7 368.7L331.8 368.6L332.8 368.7L333.9 368.5L335.0 368.3L336.0 368.5L337.1 368.2L338.2 368.2L339.2 368.0L340.3 367.6L341.4 367.7L342.4 367.6L343.5 367.6L344.6 367.3L345.5 367.3L346.5 367.1L347.5 366.8L348.5 366.9L349.5 366.5L350.5 366.6L351.5 366.2L352.5 366.0L353.5 366.0L354.5 366.0L355.5 366.0L356.5 365.5L357.5 365.5L358.5 365.4L359.5 365.3L360.5 365.0L361.5 364.9L362.5 364.8L363.5 364.8L364.5 364.4L365.5 364.6L366.5 364.2L367.5 364.0L368.5 364.1L369.5 363.9L370.5 363.6L371.5 363.6L372.5 363.3L373.4 363.4L374.4 363.2L375.4 363.1L376.4 362.8L377.4 362.5L378.4 362.4L379.4 362.2L380.4 362.2L381.4 361.7L382.4 361.8L383.3 361.3L384.3 361.1L385.3 361.0L386.3 360.9L386.3 360.9L386.3 361.9L386.2 362.8L386.2 363.8L386.2 364.8L386.1 365.8L386.1 366.8L386.0 367.8L386.0 368.9L385.9 369.9L385.9 370.8L385.8 371.8L385.8 372.8L385.7 373.8L385.7 374.8L385.6 375.9L385.5 377.0L385.4 378.0L385.4 379.1L385.3 380.2L385.2 381.3L385.1 382.3L385.0 383.3L384.9 384.3L384.8 385.3L384.7 386.3L384.6 387.3L384.5 388.4L384.4 389.4L384.3 390.4L384.1 391.5L384.0 392.5L383.9 393.5L383.7 394.5L383.6 395.4L383.5 396.4L383.3 397.3L383.1 398.4L382.9 399.5L382.7 400.6L382.5 401.7L382.3 402.7L382.1 403.8L381.8 404.8L381.6 405.8L381.4 406.7L381.2 407.6L380.9 408.5L380.5 409.7L380.1 410.8L379.7 411.8L379.4 412.8L379.1 413.6L378.9 414.7L378.8 415.7" stroke="#0000ff" stroke-width="1.30" fill="none" stroke-linejoin="round"/></g><rect x="180.6" y="252.8" width="208.7" height="161.3" fill="none" stroke="#7c7c7c" stroke-width="1.2"/><g font-size="7.00" fill="#3a3a3a" stroke="#3a3a3a" stroke-width="0.18"><text x="180.8" y="420.5" text-anchor="middle" textLength="9.2" lengthAdjust="spacingAndGlyphs">0.0</text><text x="210.6" y="420.5" text-anchor="middle" textLength="9.2" lengthAdjust="spacingAndGlyphs">0.1</text><text x="240.4" y="420.5" text-anchor="middle" textLength="9.2" lengthAdjust="spacingAndGlyphs">0.2</text><text x="270.2" y="420.5" text-anchor="middle" textLength="9.2" lengthAdjust="spacingAndGlyphs">0.3</text><text x="300.0" y="420.5" text-anchor="middle" textLength="9.2" lengthAdjust="spacingAndGlyphs">0.4</text><text x="329.8" y="420.5" text-anchor="middle" textLength="9.2" lengthAdjust="spacingAndGlyphs">0.5</text><text x="359.7" y="420.5" text-anchor="middle" textLength="9.2" lengthAdjust="spacingAndGlyphs">0.6</text><text x="389.5" y="420.5" text-anchor="middle" textLength="9.2" lengthAdjust="spacingAndGlyphs">0.7</text><text x="179.0" y="416.1" text-anchor="end" textLength="3.6" lengthAdjust="spacingAndGlyphs">0</text><text x="179.0" y="383.8" text-anchor="end" textLength="7.3" lengthAdjust="spacingAndGlyphs">20</text><text x="179.0" y="351.6" text-anchor="end" textLength="7.3" lengthAdjust="spacingAndGlyphs">40</text><text x="179.0" y="319.3" text-anchor="end" textLength="7.3" lengthAdjust="spacingAndGlyphs">60</text><text x="179.0" y="287.1" text-anchor="end" textLength="7.3" lengthAdjust="spacingAndGlyphs">80</text><text x="179.0" y="254.8" text-anchor="end" textLength="10.6" lengthAdjust="spacingAndGlyphs">100</text></g><text stroke="#2a2a2a" x="285.2" y="429.6" font-size="7.16" text-anchor="middle" textLength="58.1" lengthAdjust="spacingAndGlyphs">True strain, <tspan font-style="italic">&#x3F5;</tspan><tspan font-style="italic" font-size="5.16" dx="0.4" dy="1.58">L</tspan><tspan dx="0.8" dy="-1.58">(&#x2212;)</tspan></text><text stroke="#2a2a2a" transform="translate(165.2 333.5) rotate(-90)" font-size="7.16" text-anchor="middle" textLength="68.4" lengthAdjust="spacingAndGlyphs">True stress, <tspan font-style="italic">&#x3C3;</tspan> (MPa)</text><rect x="325.1" y="256.3" width="60.8" height="23.3" fill="#fff" stroke="#444" stroke-width="1.1"/><path d="M330.4 262.1H341.6" stroke="#ff3030" stroke-width="1.4"/><path d="M330.4 272.4H341.6" stroke="#3030ff" stroke-width="1.4"/><text stroke="#2a2a2a" stroke-width="0.18" x="349.3" y="264.7" font-size="7.26" textLength="29.4" lengthAdjust="spacingAndGlyphs">0.001 <tspan font-style="italic">s</tspan><tspan font-size="4.93" dy="-2.79">&#x2212;1</tspan></text><text stroke="#2a2a2a" stroke-width="0.18" x="349.3" y="275.0" font-size="7.26" textLength="33.1" lengthAdjust="spacingAndGlyphs">0.0001 <tspan font-style="italic">s</tspan><tspan font-size="4.93" dy="-2.79">&#x2212;1</tspan></text></g><text x="110.5" y="223.9" font-family='"Liberation Serif", "DejaVu Serif", serif' font-size="14" font-weight="bold" fill="#111" textLength="16.9" lengthAdjust="spacingAndGlyphs">(a)</text><text x="130.4" y="223.9" font-family='"Liberation Serif", "DejaVu Serif", serif' font-size="14" fill="#111" textLength="34.2" lengthAdjust="spacingAndGlyphs">25 &#xB0;C</text><text x="399.5" y="223.9" font-family='"Liberation Serif", "DejaVu Serif", serif' font-size="14" font-weight="bold" fill="#111" textLength="18.3" lengthAdjust="spacingAndGlyphs">(b)</text><text x="420.8" y="223.9" font-family='"Liberation Serif", "DejaVu Serif", serif' font-size="14" fill="#111" textLength="34.0" lengthAdjust="spacingAndGlyphs">37 &#xB0;C</text><text x="255.9" y="453.8" font-family='"Liberation Serif", "DejaVu Serif", serif' font-size="14" font-weight="bold" fill="#111" textLength="15.8" lengthAdjust="spacingAndGlyphs">(c)</text><text x="275.0" y="453.8" font-family='"Liberation Serif", "DejaVu Serif", serif' font-size="14" fill="#111" textLength="34.3" lengthAdjust="spacingAndGlyphs">50 &#xB0;C</text>
</svg>
</body></html>
